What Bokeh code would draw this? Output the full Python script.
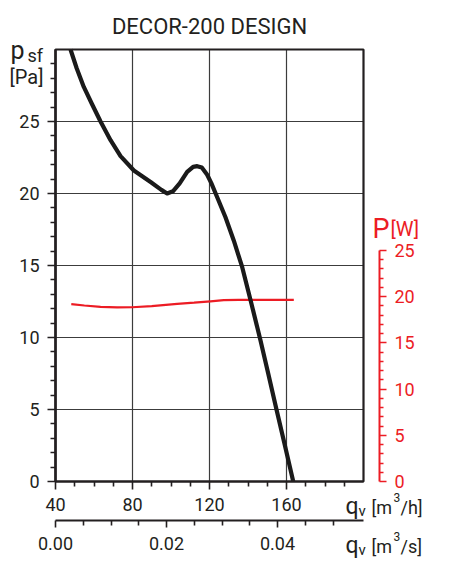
from bokeh.plotting import figure
from bokeh.models import Range1d, LinearAxis, FixedTicker, BoxAnnotation, Label, PrintfTickFormatter
from bokeh.embed import file_html
from bokeh.resources import INLINE

# ---------------- data ----------------
title_text = "DECOR-200 DESIGN"

q_m3h = [47.8, 51.0, 54.7, 59.0, 63.4, 68.6, 73.8, 80.7, 89.4, 95.0, 98.0, 101.0,
         104.5, 108.4, 111.5, 113.6, 116.0, 118.8, 121.0, 124.0, 128.3, 132.6,
         137.0, 141.5, 146.5, 150.5, 154.8, 159.0, 163.5]
p_sf = [30.0, 28.7, 27.4, 26.2, 25.0, 23.7, 22.6, 21.6, 20.8, 20.25, 20.0, 20.15,
        20.7, 21.5, 21.85, 21.9, 21.8, 21.3, 20.7, 19.74, 18.35, 16.74,
        14.88, 12.5, 9.8, 7.5, 5.0, 2.6, 0.0]

q_power = [48.2, 55.0, 63.4, 72.0, 79.8, 90.0, 103.2, 112.0, 120.5, 127.4, 135.0,
           144.8, 155.0, 163.8]
power_w = [19.2, 19.05, 18.9, 18.85, 18.86, 18.98, 19.23, 19.35, 19.5, 19.62, 19.66,
           19.66, 19.66, 19.65]

x_major = [40, 80, 120, 160]
x_minor = [50, 60, 70, 90, 100, 110, 130, 140, 150, 170, 180, 190]
y_major = [0, 5, 10, 15, 20, 25]
y_minor = [1, 2, 3, 4, 6, 7, 8, 9, 11, 12, 13, 14, 16, 17, 18, 19, 21, 22, 23, 24,
           26, 27, 28, 29]
qs_major = [0.0, 0.02, 0.04]
qs_minor = [0.005, 0.01, 0.015, 0.025, 0.03, 0.035, 0.045, 0.05]
pw_major = [0, 5, 10, 15, 20, 25]
pw_minor = [1, 2, 3, 4, 6, 7, 8, 9, 11, 12, 13, 14, 16, 17, 18, 19, 21, 22, 23, 24]
grid_x = [80, 120, 160]
grid_y = [5, 10, 15, 20, 25]

# ---------------- geometry (canvas pixels) ----------------
W, H = 450, 560
BL, BR, BT, BB = 55, 363, 49, 481           # the drawn box
X0, X1, Y0, Y1 = 40, 200, 0, 30
PXX = (BR - BL) / (X1 - X0)
PXY = (BB - BT) / (Y1 - Y0)
PXP = 231 / 25.0                             # px per watt
PXS = 222 / 0.04                             # px per m3/s
RED_AX_X = 379
QS_AX_Y = 520

RED = "#ec1c24"
INK = "#231f20"
FONT = "Roboto"


def dx(cx):
    return X0 + (cx - BL) / PXX


def dy(cy):
    return Y0 + (BB - cy) / PXY


p = figure(width=W, height=H, output_backend="svg", toolbar_location=None,
           x_range=Range1d(dx(0), dx(W)), y_range=Range1d(dy(H), dy(0)),
           x_axis_location=None, y_axis_location=None,
           min_border=0)
p.extra_y_ranges = {"power": Range1d((BB - H) / PXP, BB / PXP)}
p.extra_x_ranges = {"qs": Range1d(-BL / PXS, (W - BL) / PXS)}
p.outline_line_color = None
p.background_fill_color = "white"
p.border_fill_color = "white"
p.xgrid.visible = False
p.ygrid.visible = False

# grid lines (from the grid tick lists)
p.segment(x0=grid_x, y0=[Y0] * len(grid_x), x1=grid_x, y1=[Y1] * len(grid_x),
          line_color="#3c3c3c", line_width=1.2)
p.segment(x0=[X0] * len(grid_y), y0=grid_y, x1=[X1] * len(grid_y), y1=grid_y,
          line_color="#3c3c3c", line_width=1.2)

# box
p.add_layout(BoxAnnotation(left=X0, right=X1, bottom=Y0, top=Y1, fill_alpha=0,
                           line_color=INK, line_width=2.2, line_alpha=1))


def style_axis(ax, color):
    ax.axis_line_color = color
    ax.axis_line_width = 2
    ax.major_tick_line_color = color
    ax.minor_tick_line_color = color
    ax.major_tick_line_width = 1.6
    ax.minor_tick_line_width = 1.6
    ax.major_tick_in = 0
    ax.minor_tick_in = 0
    ax.major_tick_out = 8
    ax.minor_tick_out = 5
    ax.major_label_text_color = color
    ax.major_label_text_font = FONT
    ax.major_label_text_font_size = "18px"
    ax.major_label_standoff = 8


# left axis
ya = LinearAxis(ticker=FixedTicker(ticks=y_major, minor_ticks=y_minor),
                bounds=(Y0, Y1), fixed_location=X0)
style_axis(ya, INK)
ya.axis_line_width = 2.4
p.add_layout(ya, "left")

# bottom axis m3/h
xa = LinearAxis(ticker=FixedTicker(ticks=x_major, minor_ticks=x_minor),
                bounds=(X0, X1), fixed_location=Y0)
style_axis(xa, INK)
p.add_layout(xa, "below")

# second bottom axis m3/s
xa2 = LinearAxis(x_range_name="qs",
                 ticker=FixedTicker(ticks=qs_major, minor_ticks=qs_minor),
                 formatter=PrintfTickFormatter(format="%.2f"),
                 bounds=(0, (BR - BL) / PXS), fixed_location=dy(QS_AX_Y))
style_axis(xa2, INK)
xa2.major_tick_out = 7
xa2.minor_tick_out = 5
xa2.major_label_standoff = 9
p.add_layout(xa2, "below")

# right red axis
ra = LinearAxis(y_range_name="power",
                ticker=FixedTicker(ticks=pw_major, minor_ticks=pw_minor),
                bounds=(0, 25), fixed_location=dx(RED_AX_X))
style_axis(ra, RED)
ra.major_tick_out = 7
ra.minor_tick_out = 4
p.add_layout(ra, "right")

# curves
p.line(q_power, power_w, y_range_name="power", line_color=RED, line_width=2.2)
p.line(q_m3h, p_sf, line_color="#1a1a1a", line_width=4.2, line_join="round")


def lab(text, cx, cy, size, color=INK, align="left", baseline="alphabetic"):
    p.add_layout(Label(x=dx(cx), y=dy(cy), text=text, text_font=FONT,
                       text_font_size=size, text_color=color,
                       text_align=align, text_baseline=baseline))


# title
lab(title_text, 209, 26, "22px", align="center", baseline="middle")
# p_sf [Pa]
lab("p", 10, 50, "25px")
lab("sf", 27, 55, "18px")
lab("[Pa]", 9, 76, "20px")
# P[W]
lab("P", 372, 228, "27px", color=RED)
lab("[W]", 390, 228, "20px", color=RED)
# q_v [m3/h], q_v [m3/s]
for off, unit in ((0, "/h]"), (39, "/s]")):
    lab("q", 345, 506 + off, "23px")
    lab("v", 358, 510 + off, "15px")
    lab("[m", 371, 507 + off, "18px")
    lab("3", 393, 497 + off, "12px")
    lab(unit, 400, 507 + off, "18px")

open("out.html", "w").write(file_html(p, INLINE))
